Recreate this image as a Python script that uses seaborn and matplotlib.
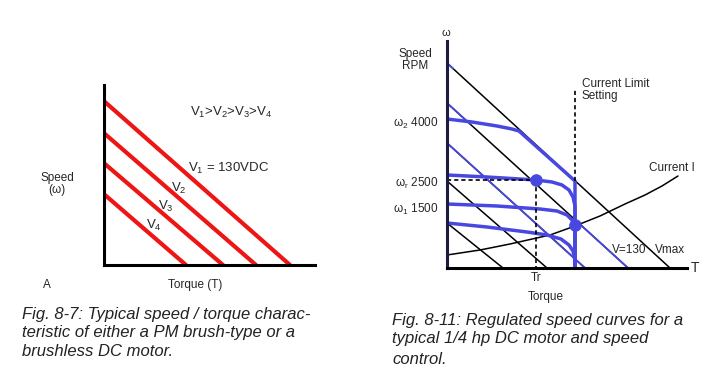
import pandas as pd
import seaborn as sns
import matplotlib.pyplot as plt

# ---- Fig. 8-7 : one speed/torque line per supply voltage ----
voltages = ["V1", "V2", "V3", "V4"]
no_load_speed = [163, 131, 101, 70]
stall_torque = [186, 152, 119, 82]

# ---- Fig. 8-11 : motor lines, regulated curves, current ----
motor_speed = [205, 165, 125, 87, 45]
motor_stall = [223, 181, 138, 100, 56]
limit_torque = 128
limit_top = 180

reg_4000_t = [0, 25, 50, 65, 72, 128, 128]
reg_4000_w = [149, 146, 142, 139, 137, 87, 0]
reg_2500_t = [0, 40, 89, 105, 115, 122, 126, 128, 128]
reg_2500_w = [93, 91, 88, 86, 83, 78, 71, 62, 0]
reg_1500_t = [0, 50, 93, 110, 120, 125, 128, 128]
reg_1500_w = [64, 62, 59, 57, 53, 48, 42, 0]
reg_low_t = [0, 40, 80, 100, 114, 122, 126, 128, 128]
reg_low_w = [45, 41, 36, 33, 29, 23, 17, 8, 0]

current_t = [0, 33, 63, 103, 128, 153, 178, 198, 215, 231]
current_w = [13, 18, 24, 33, 42, 52, 64, 73, 82, 92]

tr, wr = 89, 88          # rated torque / speed operating point
limit_point = (128, 43)

speed_ticks = [147, 87, 61]
speed_labels = ["ω$_2$ 4000", "ω$_r$ 2500", "ω$_1$ 1500"]

BLUE = "#4848e0"
RED = "#ee1515"

sns.set_style("white")
plt.rcParams["font.family"] = ["Liberation Sans", "DejaVu Sans"]
plt.rcParams["mathtext.fontset"] = "custom"
plt.rcParams["mathtext.rm"] = "Liberation Sans"
plt.rcParams["mathtext.it"] = "Liberation Sans"

W, H = 724, 380
fig = plt.figure(figsize=(W / 100, H / 100), dpi=100)


def box(left, bottom, right, top):
    return [left / W, 1 - bottom / H, (right - left) / W, (bottom - top) / H]


# ---------------- left panel ----------------
ax1 = fig.add_axes(box(104, 265, 315, 85))
red = pd.DataFrame({
    "voltage": voltages * 2,
    "torque": [1] * 4 + stall_torque,
    "speed": no_load_speed + [0] * 4,
})
sns.lineplot(data=red, x="torque", y="speed", units="voltage", estimator=None,
             color=RED, lw=3, ax=ax1, legend=False)
ax1.set_xlim(0, 211)
ax1.set_ylim(0, 180)
for s in ["top", "right"]:
    ax1.spines[s].set_visible(False)
for s in ["left", "bottom"]:
    ax1.spines[s].set_linewidth(2.2)
    ax1.spines[s].set_color("black")
ax1.set_xticks([])
ax1.set_yticks([])
ax1.set_xlabel("")
ax1.set_ylabel("")

ax1.text(86, 153, "V$_1$>V$_2$>V$_3$>V$_4$", fontsize=9.5, va="center")
ax1.text(84, 97, "V$_1$ = 130VDC", fontsize=9.5, va="center")
ax1.text(67, 77, "V$_2$", fontsize=9.5, va="center")
ax1.text(54, 59, "V$_3$", fontsize=9.5, va="center")
ax1.text(42, 40, "V$_4$", fontsize=9.5, va="center")
ax1.text(-47, 81, "Speed\n(ω)", fontsize=8.5, ha="center", va="center", linespacing=0.95)
ax1.text(-57, -20, "A", fontsize=8.5, ha="center", va="center")
ax1.text(91, -20, "Torque (T)", fontsize=8.5, ha="center", va="center")

# ---------------- right panel ----------------
ax2 = fig.add_axes(box(447, 268, 687, 41))
motor = pd.DataFrame({
    "line": list(range(5)) * 2,
    "torque": [0] * 5 + motor_stall,
    "speed": motor_speed + [0] * 5,
})
sns.lineplot(data=motor, x="torque", y="speed", units="line", estimator=None,
             color="black", lw=1.1, ax=ax2, legend=False)


def on_motor(i, t_from, t_to):
    h0, t0 = motor_speed[i], motor_stall[i]
    return [t_from, t_to], [h0 * (1 - t_from / t0), h0 * (1 - t_to / t0)]


# blue parts of the motor lines
for i, a, b in [(0, 0, 6), (1, 0, 23), (2, 0, motor_stall[2]),
                (1, limit_torque, motor_stall[1])]:
    xs, ys = on_motor(i, a, b)
    sns.lineplot(x=xs, y=ys, color=BLUE, lw=1.3, ax=ax2, sort=False, estimator=None)

# current curve
sns.lineplot(x=current_t, y=current_w, color="black", lw=1.1, ax=ax2,
             sort=False, estimator=None)

# regulated speed curves
for ts, ws in [(reg_4000_t, reg_4000_w), (reg_2500_t, reg_2500_w),
               (reg_1500_t, reg_1500_w), (reg_low_t, reg_low_w)]:
    sns.lineplot(x=ts, y=ws, color=BLUE, lw=2.5, ax=ax2, sort=False, estimator=None)

# current limit setting and operating point guides
ax2.plot([limit_torque, limit_torque], [87, limit_top], color="black",
         lw=1.2, ls=(0, (2.5, 1.8)))
ax2.plot([0, tr], [wr, wr], color="black", lw=1.2, ls=(0, (2.5, 1.8)))
ax2.plot([tr, tr], [wr, 0], color="black", lw=1.2, ls=(0, (2.5, 1.8)))
sns.scatterplot(x=[tr, limit_point[0]], y=[wr, limit_point[1]], color=BLUE,
                s=70, edgecolor=BLUE, ax=ax2, zorder=5)

ax2.set_xlim(0, 240)
ax2.set_ylim(0, 227)
for s in ["top", "right"]:
    ax2.spines[s].set_visible(False)
ax2.spines["left"].set_linewidth(2.2)
ax2.spines["left"].set_color("#1c1c40")
ax2.spines["bottom"].set_linewidth(2.2)
ax2.spines["bottom"].set_color("black")
ax2.set_yticks(speed_ticks, speed_labels, fontsize=8.5)
ax2.set_xticks([tr], ["Tr"], fontsize=8.5)
ax2.tick_params(axis="y", length=0, pad=6)
ax2.tick_params(axis="x", length=0, pad=3)
ax2.set_xlabel("")
ax2.set_ylabel("")

ax2.text(-1, 235, "ω", fontsize=8, ha="center", va="center")
ax2.text(-32, 208, "Speed\nRPM", fontsize=8.5, ha="center", va="center", linespacing=0.95)
ax2.text(135, 178, "Current Limit\nSetting", fontsize=8.5, va="center", linespacing=1.05)
ax2.text(202, 100, "Current I", fontsize=8.5, va="center")
ax2.text(165, 18, "V=130", fontsize=8.5, va="center")
ax2.text(208, 18, "Vmax", fontsize=8.5, va="center")
ax2.text(244, 0, "T", fontsize=10, va="center")
ax2.text(99, -29, "Torque", fontsize=8.5, ha="center", va="center")

# ---------------- captions ----------------
cap = dict(fontsize=12, style="italic", color="#222222", va="center")
fig.text(22 / W, 1 - 315 / H, "Fig. 8-7: Typical speed / torque charac-", **cap)
fig.text(22 / W, 1 - 333 / H, "teristic of either a PM brush-type or a", **cap)
fig.text(22 / W, 1 - 352 / H, "brushless DC motor.", **cap)
fig.text(392 / W, 1 - 321 / H, "Fig. 8-11: Regulated speed curves for a", **cap)
fig.text(392 / W, 1 - 339 / H, "typical 1/4 hp DC motor and speed", **cap)
fig.text(392 / W, 1 - 360 / H, "control.", **cap)

fig.savefig("out.png", dpi=100)
